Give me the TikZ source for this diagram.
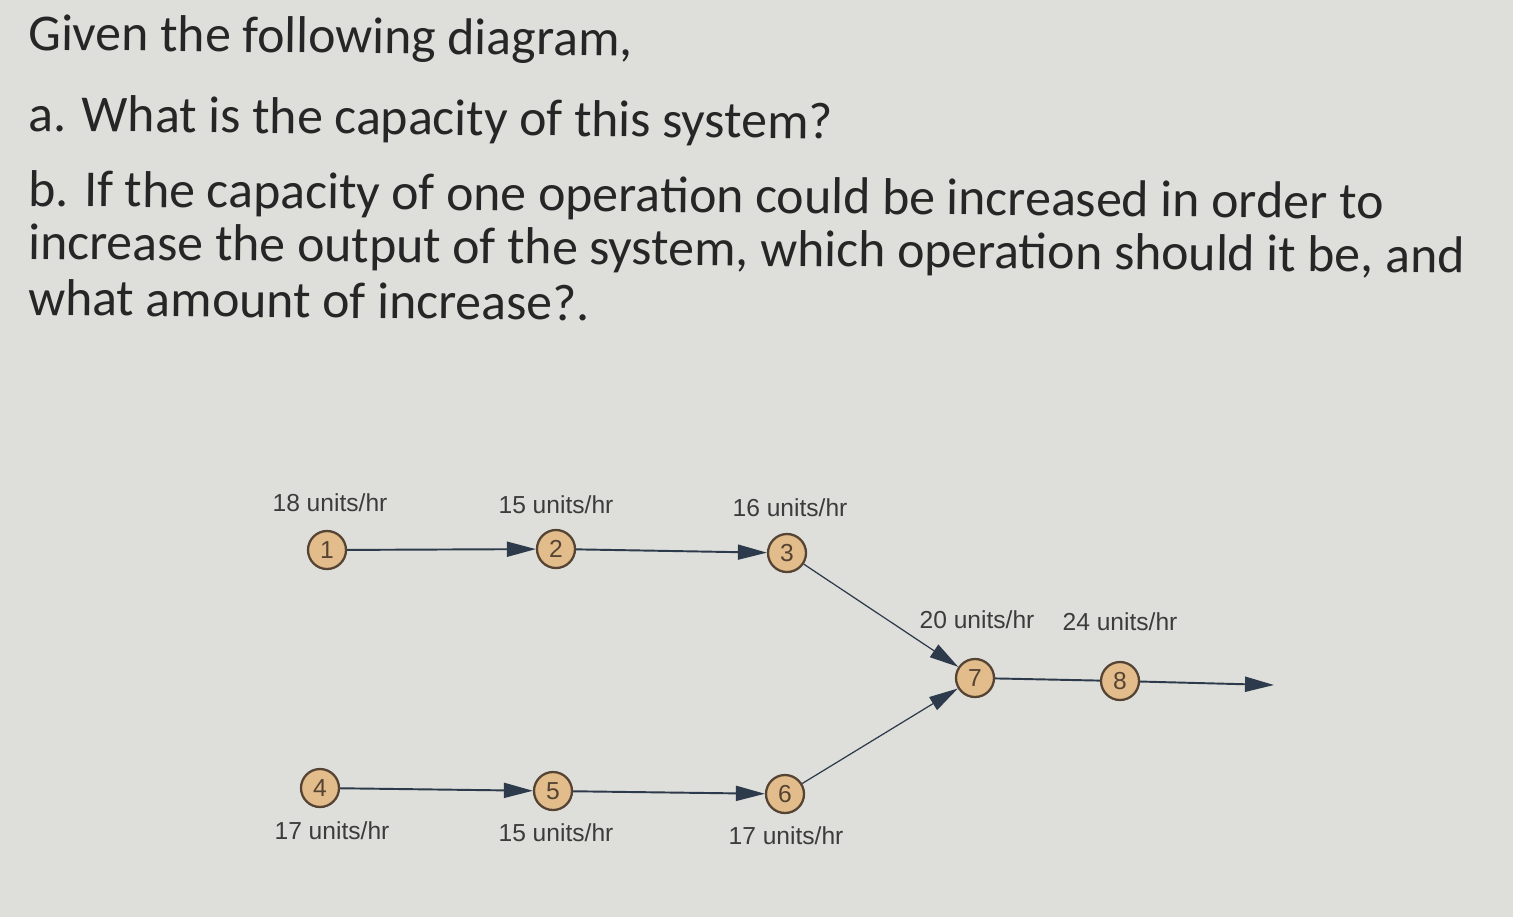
\documentclass[tikz,border=0pt]{standalone}
\usepackage{fontspec}
\setmainfont{Carlito}
\newfontfamily\ratefont{Liberation Sans}
\usetikzlibrary{arrows.meta}

\definecolor{screen}{RGB}{222,222,218}
\definecolor{ink}{RGB}{38,38,38}
\definecolor{wire}{RGB}{45,58,75}
\definecolor{disc}{RGB}{226,188,138}
\definecolor{rim}{RGB}{85,68,52}

\begin{document}
\begin{tikzpicture}[x=0.02cm, y=-0.02cm,
    op/.style={circle, draw=rim, fill=disc, line width=1.3pt, minimum size=0.76cm,
      inner sep=0pt, font=\ratefont\fontsize{14}{14}\selectfont, text=rim},
    rate/.style={font=\ratefont\fontsize{14}{14}\selectfont, text=ink!90},
    question/.style={anchor=base west, inner sep=0pt, rotate=-0.55,
      font=\fontsize{29.5}{33}\selectfont, text=ink},
    arrow/.style={-{Triangle[length=0.58cm, width=0.3cm]}, wire, line width=1.1pt},
    slant/.style={arrow, line width=0.7pt},
]

\fill[screen] (0,0) rectangle (1513,917);

% question text
\node[question] (given) at (28,50) {Given the following diagram,};
\node[question] (parta) at (28,131) {a. What is the capacity of this system?};
\node[question] (partb) at (28,206) {b. If the capacity of one operation could be increased in order to};
\node[question] (partb2) at (28,259) {increase the output of the system, which operation should it be, and};
\node[question] (partb3) at (28,315) {what amount of increase?.};

% operations
\node[op] (op1) at (327,550) {1};
\node[op] (op2) at (556,549) {2};
\node[op] (op3) at (787,553) {3};
\node[op] (op4) at (320,788) {4};
\node[op] (op5) at (553,791) {5};
\node[op] (op6) at (785,794) {6};
\node[op] (op7) at (975,678) {7};
\node[op] (op8) at (1120,681) {8};
\coordinate (out) at (1274,685);

% rates
\node[rate] (r1) at (330,503) {18 units/hr};
\node[rate] (r2) at (556,505) {15 units/hr};
\node[rate] (r3) at (790,508) {16 units/hr};
\node[rate] (r7) at (977,620) {20 units/hr};
\node[rate] (r8) at (1120,622) {24 units/hr};
\node[rate] (r4) at (332,831) {17 units/hr};
\node[rate] (r5) at (556,833) {15 units/hr};
\node[rate] (r6) at (786,836) {17 units/hr};

% flows
\draw[arrow] (op1) -- (op2);
\draw[arrow] (op2) -- (op3);
\draw[arrow] (op4) -- (op5);
\draw[arrow] (op5) -- (op6);
\draw[slant] (op3) -- (op7);
\draw[slant] (op6) -- (op7);
\draw[wire, line width=1.1pt] (op7) -- (op8);
\draw[arrow] (op8) -- (out);

\end{tikzpicture}
\end{document}
